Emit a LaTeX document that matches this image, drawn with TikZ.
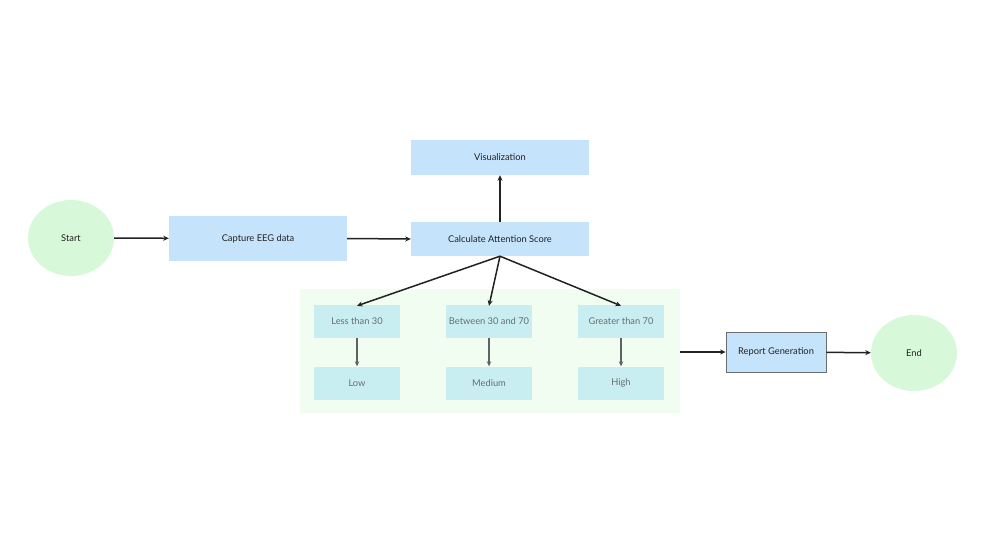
\documentclass[tikz,border=0pt]{standalone}
\usepackage{fontspec}
\setmainfont{Lato}
\usetikzlibrary{arrows.meta,shapes.geometric}
\definecolor{boxblue}{RGB}{197,227,251}
\definecolor{ellgreen}{RGB}{216,248,218}
\definecolor{grpgreen}{RGB}{240,253,240}
\definecolor{cyanbox}{RGB}{200,238,242}
\definecolor{grtext}{RGB}{105,110,110}
\definecolor{dark}{RGB}{34,34,34}
\tikzset{
  mainbox/.style={rectangle,fill=boxblue,inner sep=0pt,text=dark,font=\fontsize{9.3}{11}\selectfont},
  subbox/.style={rectangle,fill=cyanbox,inner sep=0pt,minimum width=86pt,minimum height=33pt,text=grtext,font=\fontsize{9.3}{11}\selectfont},
  term/.style={ellipse,fill=ellgreen,inner sep=0pt,minimum width=86pt,minimum height=76pt,text=dark,font=\fontsize{9.3}{11}\selectfont},
  conn/.style={draw=dark,line width=1.5pt,-{Stealth[length=5.5pt,width=5pt]}},
  subconn/.style={draw=grtext!90!black,line width=1.3pt,-{Stealth[length=5pt,width=4.5pt]}}
}
\begin{document}
\begin{tikzpicture}[x=1pt,y=-1pt]
\useasboundingbox[fill=white] (0,0) rectangle (986,555);
\node[rectangle,fill=grpgreen,inner sep=0pt,minimum width=380pt,minimum height=124pt] (grp) at (490,351) {};
\node[term] (start) at (71,238) {Start};
\node[mainbox,minimum width=178pt,minimum height=45pt] (capture) at (258,238.5) {Capture EEG data};
\node[mainbox,minimum width=178pt,minimum height=34pt] (calc) at (500,239) {Calculate Attention Score};
\node[mainbox,minimum width=178pt,minimum height=35pt] (vis) at (500,157.5) {Visualization};
\node[subbox] (lt) at (357,321.5) {Less than 30};
\node[subbox] (bt) at (489,321.5) {Between 30 and 70};
\node[subbox] (gt) at (621,321.5) {Greater than 70};
\node[subbox] (low) at (357,383) {Low};
\node[subbox] (med) at (489,383) {Medium};
\node[subbox] (high) at (621,383) {High};
\node[mainbox,draw=grtext,line width=0.8pt,minimum width=100pt,minimum height=40pt] (rep) at (776,352) {Report Generation};
\node[term] (end) at (914,353) {End};
\draw[conn] (start) -- (capture);
\draw[conn] (capture.east) -- (calc.west);
\draw[conn] (calc) -- (vis);
\draw[conn] (calc.south) -- ([yshift=-1pt]lt.north);
\draw[conn] (calc.south) -- ([yshift=-1pt]bt.north);
\draw[conn] (calc.south) -- ([yshift=-1pt]gt.north);
\draw[subconn] (lt) -- (low);
\draw[subconn] (bt) -- (med);
\draw[subconn] (gt) -- (high);
\draw[conn] (grp.east |- rep) -- (rep);
\draw[conn] (rep) -- (end);
\end{tikzpicture}
\end{document}
